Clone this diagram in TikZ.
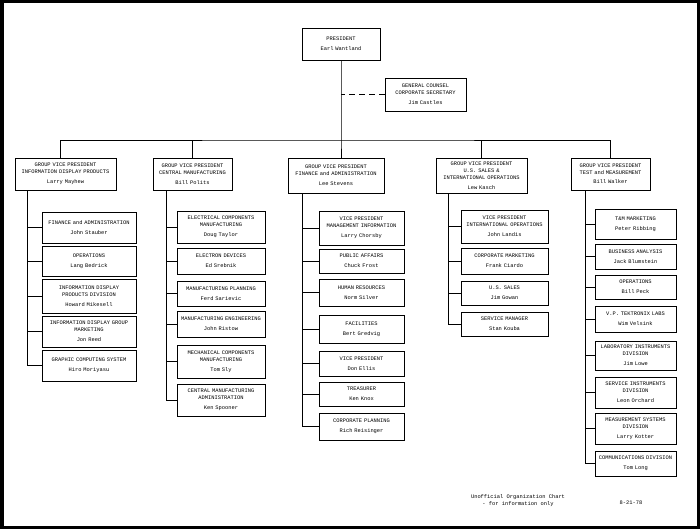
\documentclass[tikz,border=0pt]{standalone}
\usepackage{fontspec}
\setmainfont{Liberation Mono}
\usetikzlibrary{calc}
\newcommand{\orgfont}{\fontsize{5.4}{7}\selectfont}
\tikzset{
  unit/.style={draw=black, thick, align=center, inner xsep=0pt, inner ysep=1pt, font=\orgfont},
  colA/.style={unit, text width=94pt},
  colB/.style={unit, text width=88pt},
  colC/.style={unit, text width=85pt},
  colD/.style={unit, text width=87pt},
  colE/.style={unit, text width=81pt},
  link/.style={black, thick},
}

\begin{document}
\begin{tikzpicture}[x=1pt, y=-1pt]
  \useasboundingbox (0,0) rectangle (700,529);
  \draw[line width=3.5pt] (1.75,1.75) rectangle (698.25,527.25);

  % president and counsel
  \node[unit, text width=78pt, minimum height=32pt] (pres) at (341,44) {PRESIDENT\\[3pt]Earl Wantland};
  \node[unit, text width=81pt, minimum height=33pt] (gc) at (425.5,94.5) {GENERAL COUNSEL\\CORPORATE SECRETARY\\[3pt]Jim Castles};

  % group vice presidents
  \node[unit, text width=101pt, minimum height=32pt] (g1) at (65.5,174) {GROUP VICE PRESIDENT\\INFORMATION DISPLAY PRODUCTS\\[3pt]Larry Mayhew};
  \node[unit, text width=79pt, minimum height=32pt] (g2) at (192.5,174) {GROUP VICE PRESIDENT\\CENTRAL MANUFACTURING\\[3pt]Bill Polits};
  \node[unit, text width=96pt, minimum height=35pt] (g3) at (336,175.5) {GROUP VICE PRESIDENT\\FINANCE and ADMINISTRATION\\[3pt]Lee Stevens};
  \node[unit, text width=91pt, minimum height=35pt] (g4) at (481.5,175.5) {GROUP VICE PRESIDENT\\U.S. SALES \&\\INTERNATIONAL OPERATIONS\\[3pt]Lew Kasch};
  \node[unit, text width=79pt, minimum height=32pt] (g5) at (610.5,174) {GROUP VICE PRESIDENT\\TEST and MEASUREMENT\\[2pt]Bill Walker};

  % information display products
  \node[colA, minimum height=31pt] (a1) at (89,227.5) {FINANCE and ADMINISTRATION\\[3pt]John Stauber};
  \node[colA, minimum height=30pt] (a2) at (89,261) {OPERATIONS\\[3pt]Lang Bedrick};
  \node[colA, minimum height=34pt] (a3) at (89,296) {INFORMATION DISPLAY\\PRODUCTS DIVISION\\[3pt]Howard Mikesell};
  \node[colA, minimum height=31pt] (a4) at (89,331.5) {INFORMATION DISPLAY GROUP\\MARKETING\\[3pt]Jon Reed};
  \node[colA, minimum height=31pt] (a5) at (89,365.5) {GRAPHIC COMPUTING SYSTEM\\[3pt]Hiro Moriyasu};

  % central manufacturing
  \node[colB, minimum height=32pt] (b1) at (221,227) {ELECTRICAL COMPONENTS\\MANUFACTURING\\[3pt]Doug Taylor};
  \node[colB, minimum height=26pt] (b2) at (221,261) {ELECTRON DEVICES\\[3pt]Ed Srebnik};
  \node[colB, minimum height=25pt] (b3) at (221,293.5) {MANUFACTURING PLANNING\\[3pt]Ferd Sarievic};
  \node[colB, minimum height=26pt] (b4) at (221,324) {MANUFACTURING ENGINEERING\\[3pt]John Ristow};
  \node[colB, minimum height=33pt] (b5) at (221,361.5) {MECHANICAL COMPONENTS\\MANUFACTURING\\[3pt]Tom Sly};
  \node[colB, minimum height=32pt] (b6) at (221,400) {CENTRAL MANUFACTURING\\ADMINISTRATION\\[3pt]Ken Spooner};

  % finance and administration
  \node[colC, minimum height=34pt] (c1) at (361.5,228) {VICE PRESIDENT\\MANAGEMENT INFORMATION\\[3pt]Larry Chorsby};
  \node[colC, minimum height=24pt] (c2) at (361.5,261) {PUBLIC AFFAIRS\\[3pt]Chuck Frost};
  \node[colC, minimum height=27pt] (c3) at (361.5,292.5) {HUMAN RESOURCES\\[3pt]Norm Silver};
  \node[colC, minimum height=28pt] (c4) at (361.5,329) {FACILITIES\\[3pt]Bert Gredvig};
  \node[colC, minimum height=25pt] (c5) at (361.5,363.5) {VICE PRESIDENT\\[3pt]Don Ellis};
  \node[colC, minimum height=24pt] (c6) at (361.5,394) {TREASURER\\[3pt]Ken Knox};
  \node[colC, minimum height=27pt] (c7) at (361.5,426.5) {CORPORATE PLANNING\\[3pt]Rich Reisinger};

  % sales and international
  \node[colD, minimum height=33pt] (d1) at (504.5,226.5) {VICE PRESIDENT\\INTERNATIONAL OPERATIONS\\[3pt]John Landis};
  \node[colD, minimum height=26pt] (d2) at (504.5,261) {CORPORATE MARKETING\\[3pt]Frank Ciardo};
  \node[colD, minimum height=24pt] (d3) at (504.5,293) {U.S. SALES\\[3pt]Jim Gowan};
  \node[colD, minimum height=24pt] (d4) at (504.5,324) {SERVICE MANAGER\\[3pt]Stan Kouba};

  % test and measurement
  \node[colE, minimum height=30pt] (e1) at (635.5,224) {T\&M MARKETING\\[3pt]Peter Ribbing};
  \node[colE, minimum height=25pt] (e2) at (635.5,256.5) {BUSINESS ANALYSIS\\[3pt]Jack Blumstein};
  \node[colE, minimum height=24pt] (e3) at (635.5,287) {OPERATIONS\\[3pt]Bill Peck};
  \node[colE, minimum height=26pt] (e4) at (635.5,319) {V.P. TEKTRONIX LABS\\[3pt]Wim Velsink};
  \node[colE, minimum height=29pt] (e5) at (635.5,355.5) {LABORATORY INSTRUMENTS\\DIVISION\\[3pt]Jim Lowe};
  \node[colE, minimum height=31pt] (e6) at (635.5,392.5) {SERVICE INSTRUMENTS\\DIVISION\\[3pt]Leon Orchard};
  \node[colE, minimum height=31pt] (e7) at (635.5,428.5) {MEASUREMENT SYSTEMS\\DIVISION\\[3pt]Larry Kotter};
  \node[colE, minimum height=25pt] (e8) at (635.5,463.5) {COMMUNICATIONS DIVISION\\[3pt]Tom Long};

  % notes
  \node[font=\orgfont, align=center, inner sep=0pt] (note) at (518,501) {Unofficial Organization Chart\\- for information only};
  \node[font=\orgfont, inner sep=0pt] (date) at (631,503) {8-21-78};

  % top level links
  \coordinate (bus) at (341,140);
  \draw[link] (pres.south) -- (bus) -- (bus |- g3.north);
  \draw[link, dash pattern=on 6pt off 4pt] (gc.west) -- (gc.west -| pres.south);
  \draw[link] ([xshift=-5pt]g1.north) |- (bus) -| (g5.north);
  \foreach \g in {g2,g4}
    \draw[link] (\g.north) -- (\g.north |- bus);

  % column spines
  \coordinate (s1) at (g1.south -| 27,0);
  \coordinate (s2) at (g2.south -| 166,0);
  \coordinate (s3) at (g3.south -| 302,0);
  \coordinate (s4) at (g4.south -| 448,0);
  \coordinate (s5) at (g5.south -| 585,0);
  \draw[link] (s1) |- (a5.west);
  \draw[link] (s2) |- (b6.west);
  \draw[link] (s3) |- (c7.west);
  \draw[link] (s4) |- (d4.west);
  \draw[link] (s5) |- (e8.west);
  \foreach \b in {a1,a2,a3,a4}
    \draw[link] (\b.west) -- (\b.west -| s1);
  \foreach \b in {b1,b2,b3,b4,b5}
    \draw[link] (\b.west) -- (\b.west -| s2);
  \foreach \b in {c1,c2,c3,c4,c5,c6}
    \draw[link] (\b.west) -- (\b.west -| s3);
  \foreach \b in {d1,d2,d3}
    \draw[link] (\b.west) -- (\b.west -| s4);
  \foreach \b in {e1,e2,e3,e4,e5,e6,e7}
    \draw[link] (\b.west) -- (\b.west -| s5);
\end{tikzpicture}
\end{document}
